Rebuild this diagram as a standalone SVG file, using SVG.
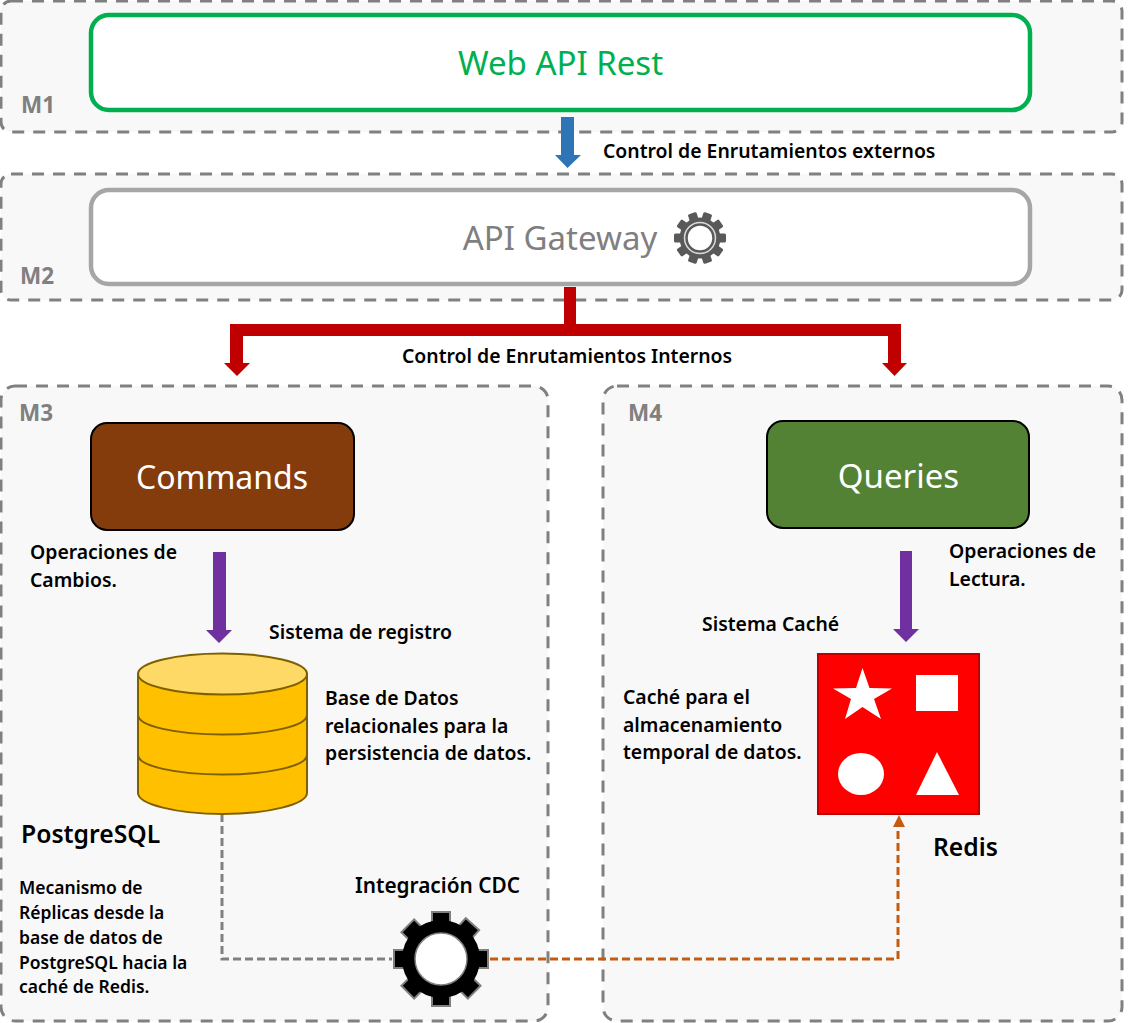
<svg xmlns="http://www.w3.org/2000/svg" xmlns:xlink="http://www.w3.org/1999/xlink" width="1148" height="1023" viewBox="0 0 1148 1023">
<style>
text{font-family:"Noto Sans","Open Sans","Liberation Sans",sans-serif}
.panel{fill:#f8f8f8;stroke:#808080;stroke-width:3;stroke-dasharray:12 9}
.tag{font-size:22.500px;font-weight:700;fill:#808080}
.lbl{font-size:19.400px;font-weight:600;fill:#000}
.sm{font-size:17.500px;font-weight:600;fill:#000}
.title{font-size:33px;text-anchor:middle}
</style>
<defs>
<rect id="tS" x="-4.500" y="-26" width="9" height="10" rx="1.500" fill="#595959"/>
<rect id="tB" x="-9" y="-47" width="18" height="16" fill="#000" stroke="#808080" stroke-width="2"/>
</defs>
<rect width="1148" height="1023" fill="#fff"/>
<g id="m1"><rect class="panel" x="1" y="1" width="1121" height="131" rx="10"/><text class="tag" x="21" y="113">M1</text></g>
<g id="m2"><rect class="panel" x="1" y="174" width="1121" height="126" rx="10"/><text class="tag" x="20" y="284">M2</text></g>
<g id="m3"><rect class="panel" x="1" y="386" width="547" height="635" rx="14"/><text class="tag" x="19" y="421">M3</text></g>
<g id="m4"><rect class="panel" x="603" y="386" width="519" height="635" rx="14"/><text class="tag" x="628" y="421">M4</text></g>
<g id="web-api"><rect x="91" y="15" width="939" height="95" rx="18" fill="#fff" stroke="#00b050" stroke-width="4.500"/><text class="title" x="560.500" y="75" fill="#00b050">Web API Rest</text></g>
<g id="api-gateway"><rect x="91" y="190" width="939" height="94" rx="18" fill="#fff" stroke="#a6a6a6" stroke-width="4.500"/><text class="title" x="560" y="250" fill="#7f7f7f">API Gateway</text>
<g transform="translate(700 238)">
<use xlink:href="#tS" transform="rotate(18)"/><use xlink:href="#tS" transform="rotate(54)"/><use xlink:href="#tS" transform="rotate(90)"/><use xlink:href="#tS" transform="rotate(126)"/><use xlink:href="#tS" transform="rotate(162)"/><use xlink:href="#tS" transform="rotate(198)"/><use xlink:href="#tS" transform="rotate(234)"/><use xlink:href="#tS" transform="rotate(270)"/><use xlink:href="#tS" transform="rotate(306)"/><use xlink:href="#tS" transform="rotate(342)"/>
<circle r="20.500" fill="#595959"/><circle r="15.500" fill="#fff" stroke="#d9d9d9" stroke-width="1.500"/><circle r="13.500" fill="#fff" stroke="#595959" stroke-width="2.500"/>
</g></g>
<g id="connectors">
<polygon fill="#2e75b6" points="561,117 574,117 574,155 581,155 567.500,168 555,155 561,155"/>
<path fill="#c00000" d="M564 287H576V324H901V363H907L894.500 376 882 363H888V336H243V363H250L237 376 224 363H230V324H564Z"/>
<polygon fill="#7030a0" points="213,552 226,552 226,630 232,630 219,643 206,630 213,630"/>
<polygon fill="#7030a0" points="900,551 912,551 912,629 919,629 906,642 893,629 900,629"/>
<path d="M222 814V959H392" fill="none" stroke="#808080" stroke-width="3" stroke-dasharray="8 4"/>
<path d="M490 959H898V827" fill="none" stroke="#c55a11" stroke-width="3" stroke-dasharray="8 4"/>
<polygon fill="#c55a11" points="899,815 905,827 893,827"/>
</g>
<g id="commands"><rect x="91" y="423" width="263" height="107" rx="16" fill="#843c0c" stroke="#000" stroke-width="2"/><text x="222" y="489" font-size="32" fill="#fff" text-anchor="middle">Commands</text></g>
<g id="queries"><rect x="767" y="421" width="262" height="107" rx="16" fill="#548235" stroke="#000" stroke-width="2"/><text x="898.500" y="487.500" font-size="33" fill="#fff" text-anchor="middle">Queries</text></g>
<g id="postgresql" fill="#ffc000" stroke="#7f6000" stroke-width="2">
<path d="M138 674V793C138 804 176 814 222.500 814S307 804 307 793V674Z"/>
<path d="M138 715C138 726 176 734.500 222.500 734.500S307 726 307 715" fill="none"/>
<path d="M138 755C138 766 176 774.500 222.500 774.500S307 766 307 755" fill="none"/>
<ellipse cx="222.500" cy="674" rx="84.500" ry="20.500" fill="#ffd966"/>
<text x="21" y="843" font-size="24.700" font-weight="600" fill="#000" stroke="none">PostgreSQL</text>
</g>
<g id="redis">
<rect x="818" y="654" width="161" height="160" fill="#f00" stroke="#c00000" stroke-width="2"/>
<g fill="#fff"><polygon points="862.500,668 869.500,688 892,688.500 874,699 881,719 862.500,707 845,719 851,699 833,688.500 856,688"/><rect x="916" y="675" width="42" height="36"/><ellipse cx="861" cy="774" rx="23" ry="21"/><polygon points="937,752 959,795 916,795"/></g>
<text x="933" y="856" font-size="24.700" font-weight="600" fill="#000">Redis</text>
</g>
<g id="cdc">
<g transform="translate(441 959)">
<use xlink:href="#tB"/><use xlink:href="#tB" transform="rotate(42)"/><use xlink:href="#tB" transform="rotate(90)"/><use xlink:href="#tB" transform="rotate(135)"/><use xlink:href="#tB" transform="rotate(180)"/><use xlink:href="#tB" transform="rotate(225)"/><use xlink:href="#tB" transform="rotate(270)"/><use xlink:href="#tB" transform="rotate(315)"/>
<circle r="39" fill="#000"/><circle r="26" fill="#fff" stroke="#808080" stroke-width="1.500"/>
</g>
<text x="355" y="892.500" font-size="20.800" font-weight="600">Integración CDC</text>
</g>
<g id="labels">
<text class="lbl" x="603" y="157.500">Control de Enrutamientos externos</text>
<text class="lbl" x="402" y="362.500">Control de Enrutamientos Internos</text>
<text class="lbl" x="30" y="558.500">Operaciones de</text><text class="lbl" x="30" y="586.500">Cambios.</text>
<text class="lbl" x="269" y="638.500">Sistema de registro</text>
<text class="lbl" x="325" y="704.500">Base de Datos</text><text class="lbl" x="325" y="732.500">relacionales para la</text><text class="lbl" x="325" y="759.500">persistencia de datos.</text>
<text class="sm" x="19" y="893.500">Mecanismo de</text><text class="sm" x="19" y="918.500">Réplicas desde la</text><text class="sm" x="19" y="943.500">base de datos de</text><text class="sm" x="19" y="968.500">PostgreSQL hacia la</text><text class="sm" x="19" y="992.500">caché de Redis.</text>
<text class="lbl" x="949" y="557.500">Operaciones de</text><text class="lbl" x="949" y="585.500">Lectura.</text>
<text class="lbl" x="702" y="630.500">Sistema Caché</text>
<text class="lbl" x="623" y="703.500">Caché para el</text><text class="lbl" x="623" y="731.500">almacenamiento</text><text class="lbl" x="623" y="758.500">temporal de datos.</text>
</g>
</svg>
